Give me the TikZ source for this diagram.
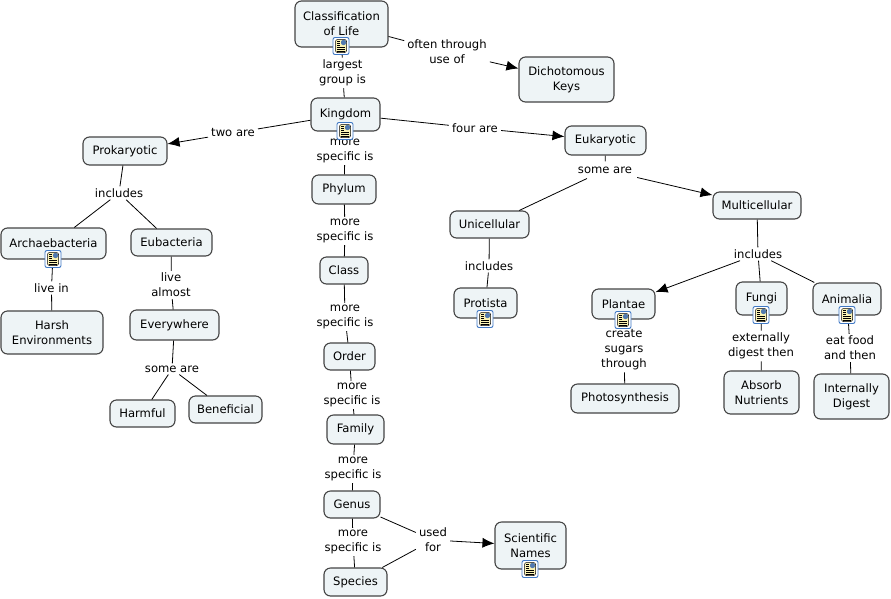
\documentclass[tikz,border=0pt]{standalone}
\usepackage{fontspec}
\setmainfont{DejaVu Sans}
\usetikzlibrary{arrows.meta}
\definecolor{conceptfill}{HTML}{EEF4F6}
\definecolor{conceptline}{HTML}{444444}
\definecolor{iconline}{HTML}{3F78C4}
\definecolor{iconpage}{HTML}{FBF3B4}
\tikzset{
  concept/.style={draw=conceptline, fill=conceptfill, shape=rectangle, rounded corners=6.5pt,
    line width=1.1pt, align=center, inner sep=0pt, font=\fontsize{11.6}{15}\selectfont},
  phrase/.style={shape=rectangle, align=center, inner xsep=3pt, inner ysep=2pt, fill=white,
    font=\fontsize{11.6}{15}\selectfont},
  link/.style={draw=black, line width=0.8pt},
  linkto/.style={link, -{Latex[length=12pt,width=10pt]}},
  icon/.style={draw=iconline, fill=white, shape=rectangle, rounded corners=2pt, line width=0.9pt,
    minimum width=16pt, minimum height=17pt, inner sep=0pt,
    path picture={
      \fill[iconpage] ([shift={(-5.5pt,-6.5pt)}]path picture bounding box.center) rectangle ++(11pt,13pt);
      \draw[black, line width=0.5pt] ([shift={(-5.5pt,-6.5pt)}]path picture bounding box.center) rectangle ++(11pt,13pt);
      \fill[iconline!70!gray] ([shift={(0pt,1pt)}]path picture bounding box.center) rectangle ++(5pt,5pt);
      \foreach \k in {-5pt,-3pt,-1pt}
        \draw[black, line width=0.5pt] ([shift={(-4pt,\k)}]path picture bounding box.center) -- ++(8pt,0pt);
      \foreach \k in {1pt,3pt,5pt}
        \draw[black, line width=0.5pt] ([shift={(-4pt,\k)}]path picture bounding box.center) -- ++(3pt,0pt);
    }},
}
% box from its corners in pixels: name, left, top, right, bottom, text
\newcommand{\conceptbox}[6]{%
  \node[concept, minimum width=#4pt-#2pt, minimum height=#5pt-#3pt]
  (#1) at ({(#2+#4)/2},{(#3+#5)/2}) {#6};}

\begin{document}
\begin{tikzpicture}[x=1pt,y=-1pt]
\useasboundingbox (0,0) rectangle (891,598);

% concepts
\conceptbox{classif}{295}{1}{388}{47}{Classification\\of Life}
\conceptbox{dichot}{519}{57}{614}{102}{Dichotomous\\Keys}
\conceptbox{kingdom}{311}{98}{380}{131}{Kingdom}
\conceptbox{prokary}{83}{137}{167}{165}{Prokaryotic}
\conceptbox{eukary}{565}{126}{646}{155}{Eukaryotic}
\conceptbox{phylum}{312}{175}{376}{204}{Phylum}
\conceptbox{class}{320}{257}{368}{284}{Class}
\conceptbox{order}{324}{343}{375}{370}{Order}
\conceptbox{family}{327}{415}{384}{444}{Family}
\conceptbox{genus}{324}{491}{380}{518}{Genus}
\conceptbox{species}{324}{568}{387}{596}{Species}
\conceptbox{scinames}{495}{522}{566}{569}{Scientific\\Names}
\conceptbox{unicell}{450}{211}{529}{238}{Unicellular}
\conceptbox{multicell}{713}{192}{801}{219}{Multicellular}
\conceptbox{protista}{454}{288}{517}{318}{Protista}
\conceptbox{plantae}{592}{289}{655}{319}{Plantae}
\conceptbox{fungi}{736}{282}{787}{315}{Fungi}
\conceptbox{animalia}{813}{283}{881}{315}{Animalia}
\conceptbox{photosyn}{571}{384}{679}{413}{Photosynthesis}
\conceptbox{absorb}{724}{371}{799}{414}{Absorb\\Nutrients}
\conceptbox{internal}{814}{374}{889}{419}{Internally\\Digest}
\conceptbox{archae}{1}{228}{106}{259}{Archaebacteria}
\conceptbox{eubact}{131}{229}{212}{256}{Eubacteria}
\conceptbox{harsh}{1}{311}{103}{354}{Harsh\\Environments}
\conceptbox{everyw}{130}{310}{219}{340}{Everywhere}
\conceptbox{harmful}{110}{400}{175}{427}{Harmful}
\conceptbox{benefic}{189}{396}{262}{423}{Beneficial}

% linking phrases
\node[phrase] (often) at (447,52) {often through\\use of};
\node[phrase] (largest) at (342.5,73) {largest\\group is};
\node[phrase] (twoare) at (233,133) {two are};
\node[phrase] (fourare) at (475,128) {four are};
\node[phrase] (incprok) at (119,193) {includes};
\node[phrase] (livein) at (51.5,288) {live in};
\node[phrase] (almost) at (171,285) {live\\almost};
\node[phrase] (someev) at (172,369) {some are};
\node[phrase, inner ysep=5pt, inner xsep=5pt] (someeu) at (605,170) {some are};
\node[phrase] (incuni) at (489,266) {includes};
\node[phrase] (incmul) at (758,254) {includes};
\node[phrase] (sugars) at (624,350) {create\\sugars\\through};
\node[phrase] (extern) at (761,346) {externally\\digest then};
\node[phrase] (eatfood) at (850,348) {eat food\\and then};
\node[phrase] (specking) at (345,151) {more\\specific is};
\node[phrase] (specphy) at (345,231) {more\\specific is};
\node[phrase] (speccla) at (345,317) {more\\specific is};
\node[phrase] (specord) at (352,395) {more\\specific is};
\node[phrase] (specfam) at (353,469) {more\\specific is};
\node[phrase] (specgen) at (353,542) {more\\specific is};
\node[phrase] (usedfor) at (433,540) {used\\for};

% connectors
\draw[link] (classif) -- (often);
\draw[linkto] (often) -- (dichot);
\draw[link] (classif) -- (largest);
\draw[link] (largest) -- (kingdom);
\draw[link] (kingdom) -- (twoare);
\draw[linkto] (twoare) -- (prokary);
\draw[link] (kingdom) -- (fourare);
\draw[linkto] (fourare) -- (eukary);
\draw[link] (prokary) -- (incprok);
\draw[link] (incprok) -- (archae);
\draw[link] (incprok) -- (eubact);
\draw[link] (archae) -- (livein);
\draw[link] (livein) -- (harsh);
\draw[link] (eubact) -- (almost);
\draw[link] (almost) -- (everyw);
\draw[link] (everyw) -- (someev);
\draw[link] (someev) -- (harmful);
\draw[link] (someev) -- (benefic);
\draw[link] (eukary) -- (someeu);
\draw[link] (someeu) -- (unicell);
\draw[linkto] (someeu) -- (multicell);
\draw[link] (unicell) -- (incuni);
\draw[link] (incuni) -- (protista);
\draw[link] (multicell) -- (incmul);
\draw[linkto] (incmul) -- (plantae);
\draw[link] (incmul) -- (fungi);
\draw[link] (incmul) -- (animalia);
\draw[link] (plantae) -- (sugars);
\draw[link] (sugars) -- (photosyn);
\draw[link] (fungi) -- (extern);
\draw[link] (extern) -- (absorb);
\draw[link] (animalia) -- (eatfood);
\draw[link] (eatfood) -- (internal);
\draw[link] (kingdom) -- (specking);
\draw[link] (specking) -- (phylum);
\draw[link] (phylum) -- (specphy);
\draw[link] (specphy) -- (class);
\draw[link] (class) -- (speccla);
\draw[link] (speccla) -- (order);
\draw[link] (order) -- (specord);
\draw[link] (specord) -- (family);
\draw[link] (family) -- (specfam);
\draw[link] (specfam) -- (genus);
\draw[link] (genus) -- (specgen);
\draw[link] (specgen) -- (species);
\draw[link] (genus) -- (usedfor);
\draw[link] (species) -- (usedfor);
\draw[linkto] (usedfor) -- (scinames);

% resource icons on top
\node[icon] (iconclassif) at (341,46) {};
\node[icon] (iconkingdom) at (345,131) {};
\node[icon] (iconarchae) at (53,259) {};
\node[icon] (iconprotista) at (485,319) {};
\node[icon] (iconplantae) at (623,320) {};
\node[icon] (iconfungi) at (761,315) {};
\node[icon] (iconanimalia) at (847,315) {};
\node[icon] (iconscinames) at (530,569) {};

\end{tikzpicture}
\end{document}
